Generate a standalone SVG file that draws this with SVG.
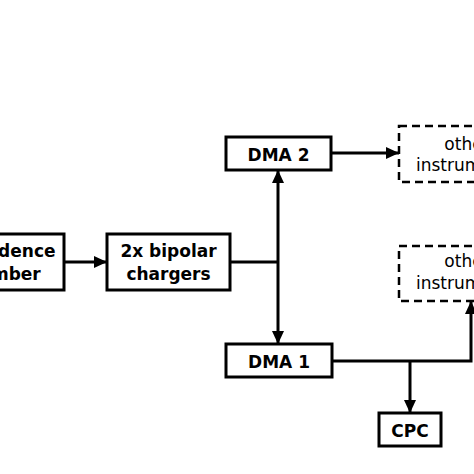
<svg xmlns="http://www.w3.org/2000/svg" width="474" height="474" viewBox="0 0 474 474">
<defs>
<marker id="ah" markerUnits="userSpaceOnUse" markerWidth="14" markerHeight="12" refX="13" refY="6" orient="auto">
<path d="M0,0 L13,6 L0,12 Z" fill="#000"/>
</marker>
<style>
.box{fill:#fff;stroke:#000;stroke-width:3}
.dash{fill:#fff;stroke:#000;stroke-width:2.5;stroke-dasharray:8,5}
.t{font-family:"DejaVu Sans",sans-serif;font-weight:bold;font-size:17px;text-anchor:middle;fill:#000}
.r{font-family:"DejaVu Sans",sans-serif;font-size:17px;text-anchor:middle;fill:#000}
.c{fill:none;stroke:#000;stroke-width:3}
</style>
</defs>
<rect width="474" height="474" fill="#fff"/>
<g id="connectors">
<line class="c" x1="64" y1="262" x2="107" y2="262" marker-end="url(#ah)"/>
<polyline class="c" points="230,262 278,262"/>
<line class="c" x1="278" y1="262" x2="278" y2="170" marker-end="url(#ah)"/>
<line class="c" x1="278" y1="262" x2="278" y2="344" marker-end="url(#ah)"/>
<line class="c" x1="331" y1="153" x2="399" y2="153" marker-end="url(#ah)"/>
<polyline class="c" points="332,361 471,361 471,301" marker-end="url(#ah)"/>
<line class="c" x1="410" y1="361" x2="410" y2="413" marker-end="url(#ah)"/>
</g>
<g id="coincidence">
<rect class="box" x="-70" y="234" width="134" height="56"/>
<text class="t" x="-1" y="257">coincidence</text>
<text class="t" x="-1" y="280">chamber</text>
</g>
<g id="chargers">
<rect class="box" x="107" y="234" width="123" height="56"/>
<text class="t" x="168.5" y="257">2x bipolar</text>
<text class="t" x="168.5" y="280">chargers</text>
</g>
<g id="dma2">
<rect class="box" x="226" y="137" width="105" height="33"/>
<text class="t" x="278.5" y="161">DMA 2</text>
</g>
<g id="dma1">
<rect class="box" x="226" y="344" width="106" height="33"/>
<text class="t" x="279" y="368">DMA 1</text>
</g>
<g id="cpc">
<rect class="box" x="379" y="413" width="62" height="33"/>
<text class="t" x="410" y="437">CPC</text>
</g>
<g id="other1">
<rect class="dash" x="399" y="126" width="140" height="56"/>
<text class="r" x="467" y="150">other</text>
<text class="r" x="467" y="171">instruments</text>
</g>
<g id="other2">
<rect class="dash" x="399" y="246" width="140" height="55"/>
<text class="r" x="467" y="267">other</text>
<text class="r" x="467" y="289">instruments</text>
</g>
</svg>
